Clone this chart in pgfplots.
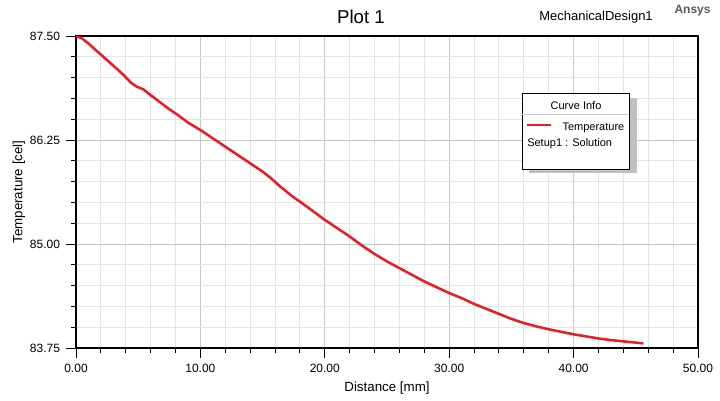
\documentclass[border=0pt]{standalone}
\usepackage{pgfplots}
\pgfplotsset{compat=1.18}
\usepackage{fontspec}
\setmainfont{Liberation Sans}
\definecolor{curvered}{RGB}{237,28,36}
\definecolor{majgrid}{RGB}{200,200,200}
\definecolor{mingrid}{RGB}{228,228,228}
\definecolor{shadowgray}{RGB}{192,192,192}
\definecolor{ansysgray}{RGB}{90,90,90}
\begin{document}
\begin{tikzpicture}
\path[use as bounding box] (0,0) rectangle (540pt,300pt);
\begin{axis}[
  at={(57pt,39pt)}, anchor=south west,
  scale only axis, width=466.5pt, height=234pt,
  xmin=0, xmax=50, ymin=83.75, ymax=87.5,
  xtick={0,10,20,30,40,50},
  ytick={83.75,85,86.25,87.5},
  minor x tick num=4, minor y tick num=4,
  tick pos=left, tick align=outside,
  major tick length=7.5pt, minor tick length=3.75pt,
  every tick/.style={black, line width=0.75pt},
  grid=both,
  major grid style={majgrid, line width=0.75pt},
  minor grid style={mingrid, line width=0.75pt},
  axis line style={black, line width=1pt},
  /pgf/number format/assume math mode=true,
  /pgf/number format/.cd, fixed, fixed zerofill, precision=2,
  /pgfplots/.cd,
  ticklabel style={font=\fontsize{9pt}{10pt}\selectfont},
  xticklabel style={yshift=-1pt},
  yticklabel style={xshift=-1pt},
  xlabel={Distance [mm]},
  ylabel={Temperature [cel]},
  label style={font=\fontsize{9pt}{10pt}\selectfont},
  every axis x label/.style={at={(rel axis cs:0.5,0)}, anchor=center, yshift=-30pt},
  every axis y label/.style={at={(rel axis cs:0,0.5)}, anchor=center, xshift=-42.75pt, rotate=90},
]
\addplot[curvered, line width=1.9pt, line join=round] coordinates {
(0.0,87.500) (0.5,87.470) (1.0,87.410) (1.6,87.330) (2.2,87.250)
(2.8,87.170) (3.4,87.090) (3.9,87.020) (4.4,86.940) (4.9,86.890)
(5.4,86.860) (6.0,86.790) (6.7,86.710) (7.5,86.620) (8.1,86.560)
(9.0,86.460) (10.0,86.370) (11.0,86.270) (12.0,86.170) (13.0,86.070)
(14.0,85.970) (15.0,85.870) (15.6,85.800) (16.5,85.680) (17.5,85.560)
(18.0,85.510) (19.0,85.400) (20.0,85.290) (21.0,85.190) (22.0,85.090)
(23.0,84.980) (24.0,84.880) (25.0,84.790) (26.0,84.710) (27.0,84.630)
(28.0,84.550) (29.0,84.480) (30.0,84.410) (31.0,84.350) (32.0,84.280)
(33.0,84.220) (34.0,84.160) (35.0,84.100) (36.0,84.050) (37.0,84.010)
(38.0,83.975) (39.0,83.945) (40.0,83.915) (41.0,83.890) (42.0,83.865)
(43.0,83.845) (44.0,83.830) (45.0,83.815) (45.6,83.805)
};
\end{axis}
% titles
\node[font=\fontsize{14pt}{16pt}\selectfont] at (270.75pt,287.25pt) {Plot 1};
\node[font=\fontsize{9.75pt}{11pt}\selectfont] at (447pt,287.25pt) {MechanicalDesign1};
\node[font=\fontsize{9pt}{11pt}\selectfont\bfseries, text=ansysgray] at (519.4pt,291.75pt) {Ansys};
% legend box
\fill[shadowgray] (396.75pt,170pt) rectangle (477.5pt,226.3pt);
\filldraw[fill=white, draw=black, line width=0.75pt] (391.7pt,173pt) rectangle (472pt,230pt);
\draw[majgrid, line width=0.75pt] (391.7pt,213.75pt) -- (472pt,213.75pt);
\node[font=\fontsize{8.25pt}{10pt}\selectfont] at (432pt,220.5pt) {Curve Info};
\draw[curvered, line width=1.5pt] (395pt,206pt) -- (413pt,206pt);
\node[font=\fontsize{8.25pt}{10pt}\selectfont, anchor=west, inner sep=0pt] at (421.7pt,204pt) {Temperature};
\node[font=\fontsize{8.25pt}{10pt}\selectfont, anchor=west, inner sep=0pt] at (395.25pt,192.5pt) {Setup1 : Solution};
\end{tikzpicture}
\end{document}
